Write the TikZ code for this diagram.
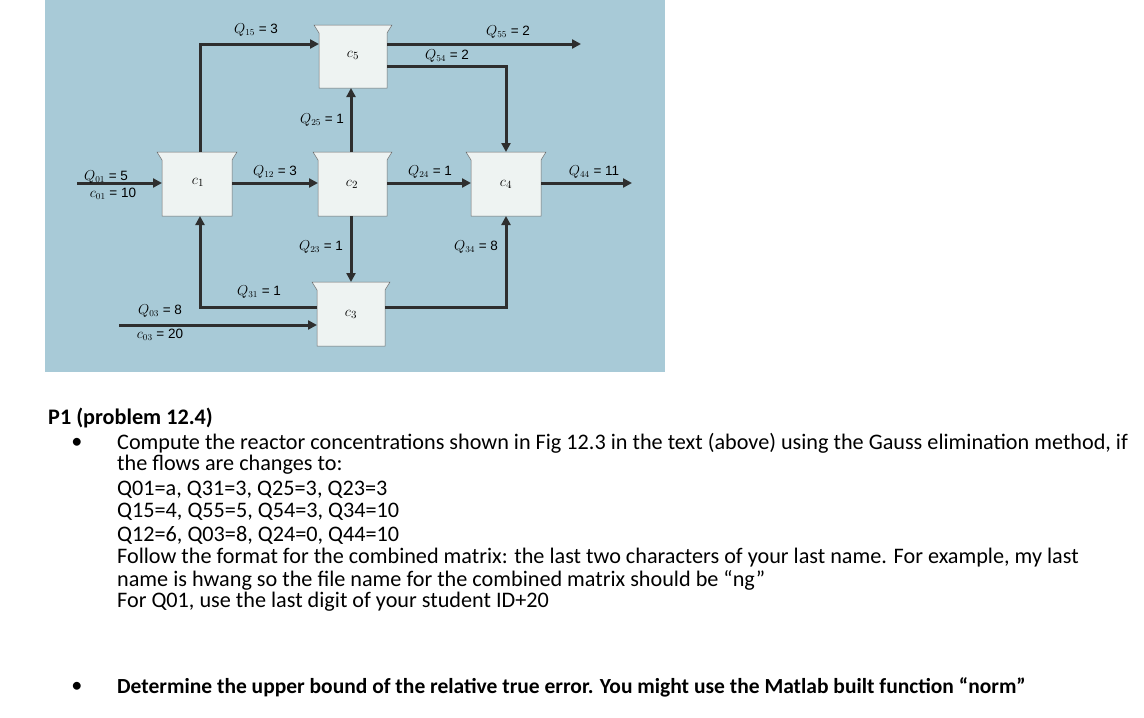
\documentclass[tikz,border=0pt]{standalone}
\usepackage{fontspec}
\setmainfont{Carlito}
\newfontfamily\diafont{Liberation Sans}
\usetikzlibrary{arrows.meta}
\definecolor{bgblue}{HTML}{A8CAD7}
\definecolor{boxfill}{HTML}{EEF3F2}
\definecolor{flow}{HTML}{2E2E2E}
\begin{document}
\begin{tikzpicture}[x=1pt,y=-1pt,
  flowline/.style={draw=flow,line width=3pt,-{Triangle[length=9pt,width=9pt]}},
  lbl/.style={font=\diafont\fontsize{13.5}{15}\selectfont,inner sep=0pt},
  clbl/.style={font=\fontsize{15}{16}\selectfont,inner sep=0pt},
  txt/.style={anchor=west,inner sep=0pt,font=\fontsize{22.2}{26}\selectfont},
  bul/.style={inner sep=0pt,font=\fontsize{22.2}{26}\selectfont}]
\useasboundingbox (0,0) rectangle (1144,718);
\fill[white] (0,0) rectangle (1144,718);
\fill[bgblue] (45,0) rectangle (665,372);
% beakers
\newcommand{\beaker}[5]{% name, x1, y1, x2, y2
  \fill[boxfill,draw=flow!70,line width=0.5pt] (#2-5,#3) -- (#4+5,#3) -- (#4,#3+8) -- (#4,#5) -- (#2,#5) -- (#2,#3+8) -- cycle;
  \coordinate (#1) at ({(#2+#4)/2},{(#3+#5)/2});}
\beaker{c1}{162}{152}{232}{216}
\beaker{c2}{318}{152}{387}{216}
\beaker{c4}{471}{152}{541}{216}
\beaker{c5}{319}{25}{387}{88}
\beaker{c3}{317}{282}{385}{346}
\node[clbl] (lc1) at (198,182) {$c_1$};
\node[clbl] (lc2) at (352,184) {$c_2$};
\node[clbl] (lc4) at (506,184) {$c_4$};
\node[clbl] (lc5) at (353,55) {$c_5$};
\node[clbl] (lc3) at (351,314) {$c_3$};
% flows
\coordinate (in01) at (77,183);
\coordinate (in03) at (119,325);
\coordinate (out44) at (632,183);
\coordinate (out55) at (581,44);
\draw[flowline] (in01) -- (162,183);
\draw[flowline] (232,183) -- (318,183);
\draw[flowline] (387,183) -- (471,183);
\draw[flowline] (541,183) -- (out44);
\draw[flowline] (200,152) -- (200,44) -- (319,44);
\draw[flowline] (387,44) -- (out55);
\draw[flowline] (387,66) -- (506,66) -- (506,152);
\draw[flowline] (351,152) -- (351,88);
\draw[flowline] (351,216) -- (351,282);
\draw[flowline] (317,307) -- (200,307) -- (200,216);
\draw[flowline] (in03) -- (317,325);
\draw[flowline] (385,307) -- (506,307) -- (506,216);
% labels
\node[lbl] (q15) at (256,30) {$Q_{15}$ = 3};
\node[lbl] (q55) at (508,32) {$Q_{55}$ = 2};
\node[lbl] (q54) at (447,56) {$Q_{54}$ = 2};
\node[lbl] (q25) at (322,120) {$Q_{25}$ = 1};
\node[lbl] (q12) at (275,172) {$Q_{12}$ = 3};
\node[lbl] (q24) at (430,172) {$Q_{24}$ = 1};
\node[lbl] (q44) at (594,172) {$Q_{44}$ = 11};
\node[lbl] (q01) at (106,177) {$Q_{01}$ = 5};
\node[lbl] (cc01) at (113,194) {$c_{01}$ = 10};
\node[lbl] (q23) at (321,247) {$Q_{23}$ = 1};
\node[lbl] (q34) at (476,247) {$Q_{34}$ = 8};
\node[lbl] (q31) at (259,292) {$Q_{31}$ = 1};
\node[lbl] (q03) at (160,311) {$Q_{03}$ = 8};
\node[lbl] (cc03) at (160,335) {$c_{03}$ = 20};
% text
\node[txt,font=\bfseries\fontsize{22.2}{26}\selectfont] (p1) at (48,418) {P1 (problem 12.4)};
\node[bul] (b1) at (77,443) {•};
\node[txt] (t1) at (117,443) {Compute the reactor concentrations shown in Fig 12.3 in the text (above) using the Gauss elimination method, if};
\node[txt] (t2) at (117,465) {the flows are changes to:};
\node[txt] (t3) at (117,490) {Q01=a, Q31=3, Q25=3, Q23=3};
\node[txt] (t4) at (117,512) {Q15=4, Q55=5, Q54=3, Q34=10};
\node[txt] (t5) at (117,535) {Q12=6, Q03=8, Q24=0, Q44=10};
\node[txt] (t6) at (117,558) {Follow the format for the combined matrix: the last two characters of your last name. For example, my last};
\node[txt] (t7) at (117,580) {name is hwang so the file name for the combined matrix should be “ng”};
\node[txt] (t8) at (117,602) {For Q01, use the last digit of your student ID+20};
\node[bul] (b2) at (77,687) {•};
\node[txt,font=\bfseries\fontsize{21.5}{26}\selectfont] (t9) at (117,687) {Determine the upper bound of the relative true error. You might use the Matlab built function “norm”};
\end{tikzpicture}
\end{document}
